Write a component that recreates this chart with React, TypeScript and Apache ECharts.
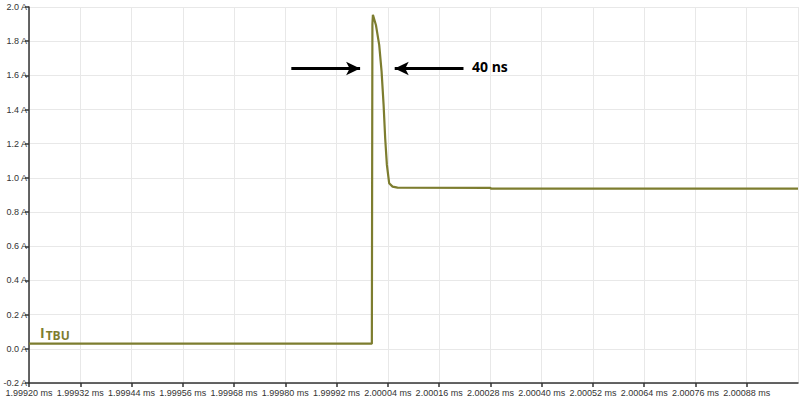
import React, { useEffect, useRef } from "react";
import * as echarts from "echarts";

// time in ns (absolute), current in A
const timeNs = [
  1999200, 2000002.5, 2000003.8, 2000005, 2000012, 2000019.7, 2000025.3, 2000030,
  2000033.7, 2000037.7, 2000043, 2000051, 2000062.6, 2000280, 2000281, 2001000,
];
const currentA = [
  0.03, 0.03, 1.9, 1.955, 1.895, 1.778, 1.622, 1.427,
  1.232, 1.076, 0.969, 0.949, 0.943, 0.942, 0.937, 0.937,
];

const xMin = 1999200;
const xMax = 2001000;
const xStep = 120;
const yMin = -0.2;
const yMax = 2.0;
const yStep = 0.2;

const arrowY = 1.64;
const arrowLeft = [1999814, 1999975];
const arrowRight = [2000217, 2000056];
const widthLabel = "40 ns";
const seriesLabel = ["I", "TBU"];

const OLIVE = "#7d7d2f";
const FONT = "'Liberation Sans Narrow', 'Liberation Sans', Arial, sans-serif";

export default function App() {
  const ref = useRef<HTMLDivElement>(null);
  useEffect(() => {
    document.body.style.margin = "0";
    const chart = echarts.init(ref.current!, null, { renderer: "svg" });
    const data = timeNs.map((t, i) => [t, currentA[i]]);
    chart.setOption({
      animation: false,
      backgroundColor: "#ffffff",
      grid: { left: 27, right: 2, top: 7, bottom: 19, containLabel: false },
      xAxis: {
        type: "value",
        min: xMin,
        max: xMax,
        interval: xStep,
        axisLine: { show: true, onZero: false, lineStyle: { color: "#333", width: 1.5 } },
        axisTick: { show: true, length: 4, lineStyle: { color: "#333", width: 1.5 } },
        axisLabel: {
          interval: 0,
          hideOverlap: false,
          showMinLabel: true,
          showMaxLabel: false,
          margin: 5,
          fontSize: 9,
          fontFamily: FONT,
          color: "#333",
          formatter: (v: number) => (v / 1e6).toFixed(5) + " ms",
        },
        splitLine: { show: true, lineStyle: { color: "#e8e8e8", width: 1 } },
      },
      yAxis: {
        type: "value",
        min: yMin,
        max: yMax,
        interval: yStep,
        axisLine: { show: true, onZero: false, lineStyle: { color: "#333", width: 1.5 } },
        axisTick: { show: true, length: 4, lineStyle: { color: "#333", width: 1.5 } },
        axisLabel: {
          margin: 2,
          fontSize: 9,
          fontFamily: FONT,
          color: "#333",
          formatter: (v: number) => v.toFixed(1) + " A",
        },
        splitLine: { show: true, lineStyle: { color: "#e8e8e8", width: 1 } },
      },
      series: [
        {
          type: "line",
          data,
          showSymbol: false,
          lineStyle: { color: OLIVE, width: 2.2 },
          itemStyle: { color: OLIVE },
          markLine: {
            silent: true,
            symbol: ["none", "arrow"],
            symbolSize: [10, 14],
            label: { show: false },
            lineStyle: { color: "#000", width: 3, type: "solid" },
            data: [
              [
                { coord: [arrowLeft[0], arrowY] },
                { coord: [arrowLeft[1], arrowY] },
              ],
              [
                { coord: [arrowRight[0], arrowY] },
                { coord: [arrowRight[1], arrowY] },
              ],
            ],
          },
        },
      ],
      graphic: [
        {
          type: "text",
          x: 472,
          y: 66,
          style: {
            text: widthLabel,
            fill: "#000",
            font: "bold 14px 'Open Sans', sans-serif",
            verticalAlign: "middle",
          },
        },
        {
          type: "text",
          x: 40,
          y: 325,
          style: {
            text: "{a|" + seriesLabel[0] + "}{b|" + seriesLabel[1] + "}",
            rich: {
              a: { fontSize: 14, fontWeight: "bold", fill: OLIVE, fontFamily: "'Open Sans', sans-serif", verticalAlign: "top", lineHeight: 16 },
              b: { fontSize: 12, fontWeight: "bold", fill: OLIVE, fontFamily: "'Open Sans', sans-serif", verticalAlign: "bottom", lineHeight: 16, padding: [7, 0, 0, 1] },
            },
          },
        },
      ],
    });
    return () => chart.dispose();
  }, []);
  return <div ref={ref} style={{ width: 800, height: 402 }} />;
}
